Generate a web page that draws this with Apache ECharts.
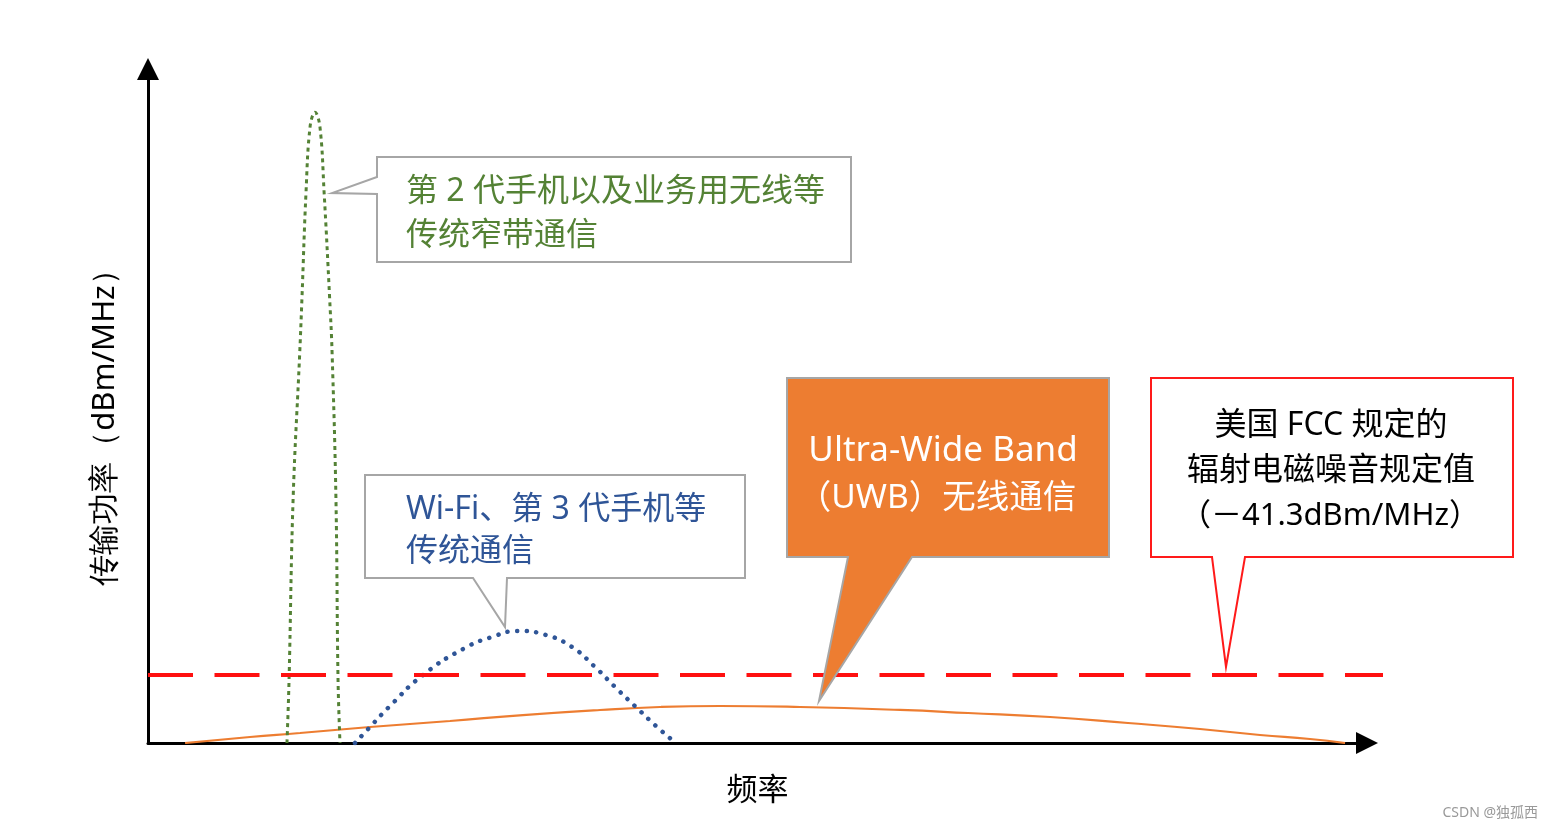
<!DOCTYPE html>
<html>
<head>
<meta charset="utf-8">
<script src="https://cdn.jsdelivr.net/npm/echarts@6/dist/echarts.min.js"></script>
<style>
  html, body { margin: 0; padding: 0; background: #fff; }
  #main { width: 1554px; height: 829px; }
</style>
</head>
<body>
<div id="main"></div>
<script type="text/javascript">
// 频率 / 传输功率 用同一套无刻度的相对单位 (0-100)
var narrowBand = [[11.4, 0], [11.57, 9.3], [11.9, 36], [12.45, 58], [12.63, 66], [12.96, 81.6],
    [13.3, 91.5], [13.7, 93.6], [14.1, 91.5], [14.45, 81.6], [14.9, 66], [15.1, 58],
    [15.42, 36], [15.59, 9.3], [15.75, 0]];
var wifiBand = [[16.98, 0], [18.21, 2.37], [19.77, 5.34], [22.56, 10.09], [26.0, 14.1], [28.22, 15.73],
    [30.27, 16.62], [32.65, 16.02], [34.78, 14.24], [36.67, 11.28], [38.31, 8.31], [40.11, 5.19],
    [41.76, 2.37], [43.3, 0]];
var uwbBand = [[3.04, 0], [8.37, 0.89], [12.47, 1.48], [18.21, 2.37], [24.77, 3.26], [30.76, 4.15],
    [37.08, 4.9], [42.0, 5.34], [46.92, 5.49], [53.49, 5.34], [61.69, 4.9], [67.27, 4.45],
    [74.0, 3.86], [80.39, 2.97], [86.3, 2.08], [91.22, 1.19], [95.32, 0.59], [98.2, 0]];
var fccLimit = [[0, 10.09], [101.3, 10.09]];

var xName = '频率';
var yName = '传输功率（dBm/MHz）';
var noteNarrow = ['第 2 代手机以及业务用无线等', '传统窄带通信'];
var noteWifi = ['Wi-Fi、第 3 代手机等', '传统通信'];
var noteUwb = ['Ultra-Wide Band', '（UWB）无线通信'];
var noteFcc = ['美国 FCC 规定的', '辐射电磁噪音规定值', '（－41.3dBm/MHz）'];

(function(){
    var myChart = echarts.init(document.getElementById('main'));
    var fam = '"Noto Sans", "Noto Sans CJK SC", sans-serif';

    function txt(str, x, y, size, color, align) {
        return {
            type: 'text', z: 20, silent: true,
            style: {
                text: str, x: x, y: y, fill: color,
                font: size + 'px ' + fam,
                textAlign: align || 'left', textVerticalAlign: 'middle'
            }
        };
    }
    function callout(pts, fill, stroke) {
        return {
            type: 'polygon', z: 10, silent: true,
            shape: { points: pts },
            style: { fill: fill, stroke: stroke, lineWidth: 2 }
        };
    }

    var graphics = [
        callout([[377, 157], [851, 157], [851, 262], [377, 262], [377, 194], [332, 193], [377, 177]], '#fff', '#a6a6a6'),
        callout([[365, 475], [745, 475], [745, 578], [507, 578], [505, 627], [473, 578], [365, 578]], '#fff', '#a6a6a6'),
        callout([[787, 378], [1109, 378], [1109, 557], [912, 557], [819, 701], [848, 557], [787, 557]], '#ed7d31', '#a6a6a6'),
        callout([[1151, 378], [1513, 378], [1513, 557], [1245, 557], [1226, 667], [1212, 557], [1151, 557]], '#fff', '#ff1a1a'),
        txt(noteNarrow[0], 406, 192, 32, '#548235'),
        txt(noteNarrow[1], 406, 236, 32, '#548235'),
        txt(noteWifi[0], 406, 510, 32, '#2f5597'),
        txt(noteWifi[1], 406, 552, 32, '#2f5597'),
        txt(noteUwb[0], 943, 451, 35, '#fff', 'center'),
        txt(noteUwb[1], 937, 498, 33.5, '#fff', 'center'),
        txt(noteFcc[0], 1331, 426, 32, '#000', 'center'),
        txt(noteFcc[1], 1331, 471, 32, '#000', 'center'),
        txt(noteFcc[2], 1330, 516, 31, '#000', 'center'),
        txt('CSDN @独孤西', 1538, 813, 14, '#999', 'right')
    ];

    var axisLine = { show: true, symbol: ['none', 'triangle'], symbolSize: [22, 22], lineStyle: { color: '#000', width: 3 } };
    var hidden = { show: false };

    var option = {
        animation: false,
        grid: [
            { left: 148, right: 187, top: 69, bottom: 86 },
            // 同比例、稍宽的网格，让 FCC 限值线像原图一样略超出横轴箭头
            { left: 148, right: 171, top: 69, bottom: 86 }
        ],
        xAxis: [
            {
                type: 'value', gridIndex: 0, min: 0, max: 100,
                axisLine: axisLine, axisTick: hidden, axisLabel: hidden, splitLine: hidden,
                name: xName, nameLocation: 'middle', nameGap: 30,
                nameTextStyle: { fontFamily: 'Noto Sans CJK SC', fontSize: 31, color: '#000' }
            },
            { type: 'value', gridIndex: 1, min: 0, max: 101.3, show: false }
        ],
        yAxis: [
            {
                type: 'value', gridIndex: 0, min: 0, max: 100,
                axisLine: axisLine, axisTick: hidden, axisLabel: hidden, splitLine: hidden,
                name: yName, nameLocation: 'middle', nameGap: 27, nameRotate: 90,
                nameTextStyle: { fontFamily: 'Noto Sans', fontSize: 31, color: '#000', padding: [0, 28, 0, 0] }
            },
            { type: 'value', gridIndex: 1, min: 0, max: 100, show: false }
        ],
        series: [
            {
                name: 'UWB', type: 'line', data: uwbBand, showSymbol: false, smooth: 0.5,
                lineStyle: { color: '#ed7d31', width: 2.2 }, z: 2
            },
            {
                name: '窄带', type: 'line', data: narrowBand, showSymbol: false, smooth: 0.4,
                lineStyle: { color: '#548235', width: 3, type: [4, 4] }, z: 3
            },
            {
                name: 'Wi-Fi', type: 'line', data: wifiBand, showSymbol: false, smooth: 0.5,
                lineStyle: { color: '#2f5597', width: 4.5, type: [0.1, 9.5], cap: 'round' }, z: 3
            },
            {
                name: 'FCC', type: 'line', data: fccLimit, xAxisIndex: 1, yAxisIndex: 1, showSymbol: false,
                lineStyle: { color: '#ff1010', width: 4, type: [45, 21.5] }, z: 4
            }
        ],
        graphic: graphics
    };

    myChart.setOption(option);
})();
</script>
</body>
</html>
